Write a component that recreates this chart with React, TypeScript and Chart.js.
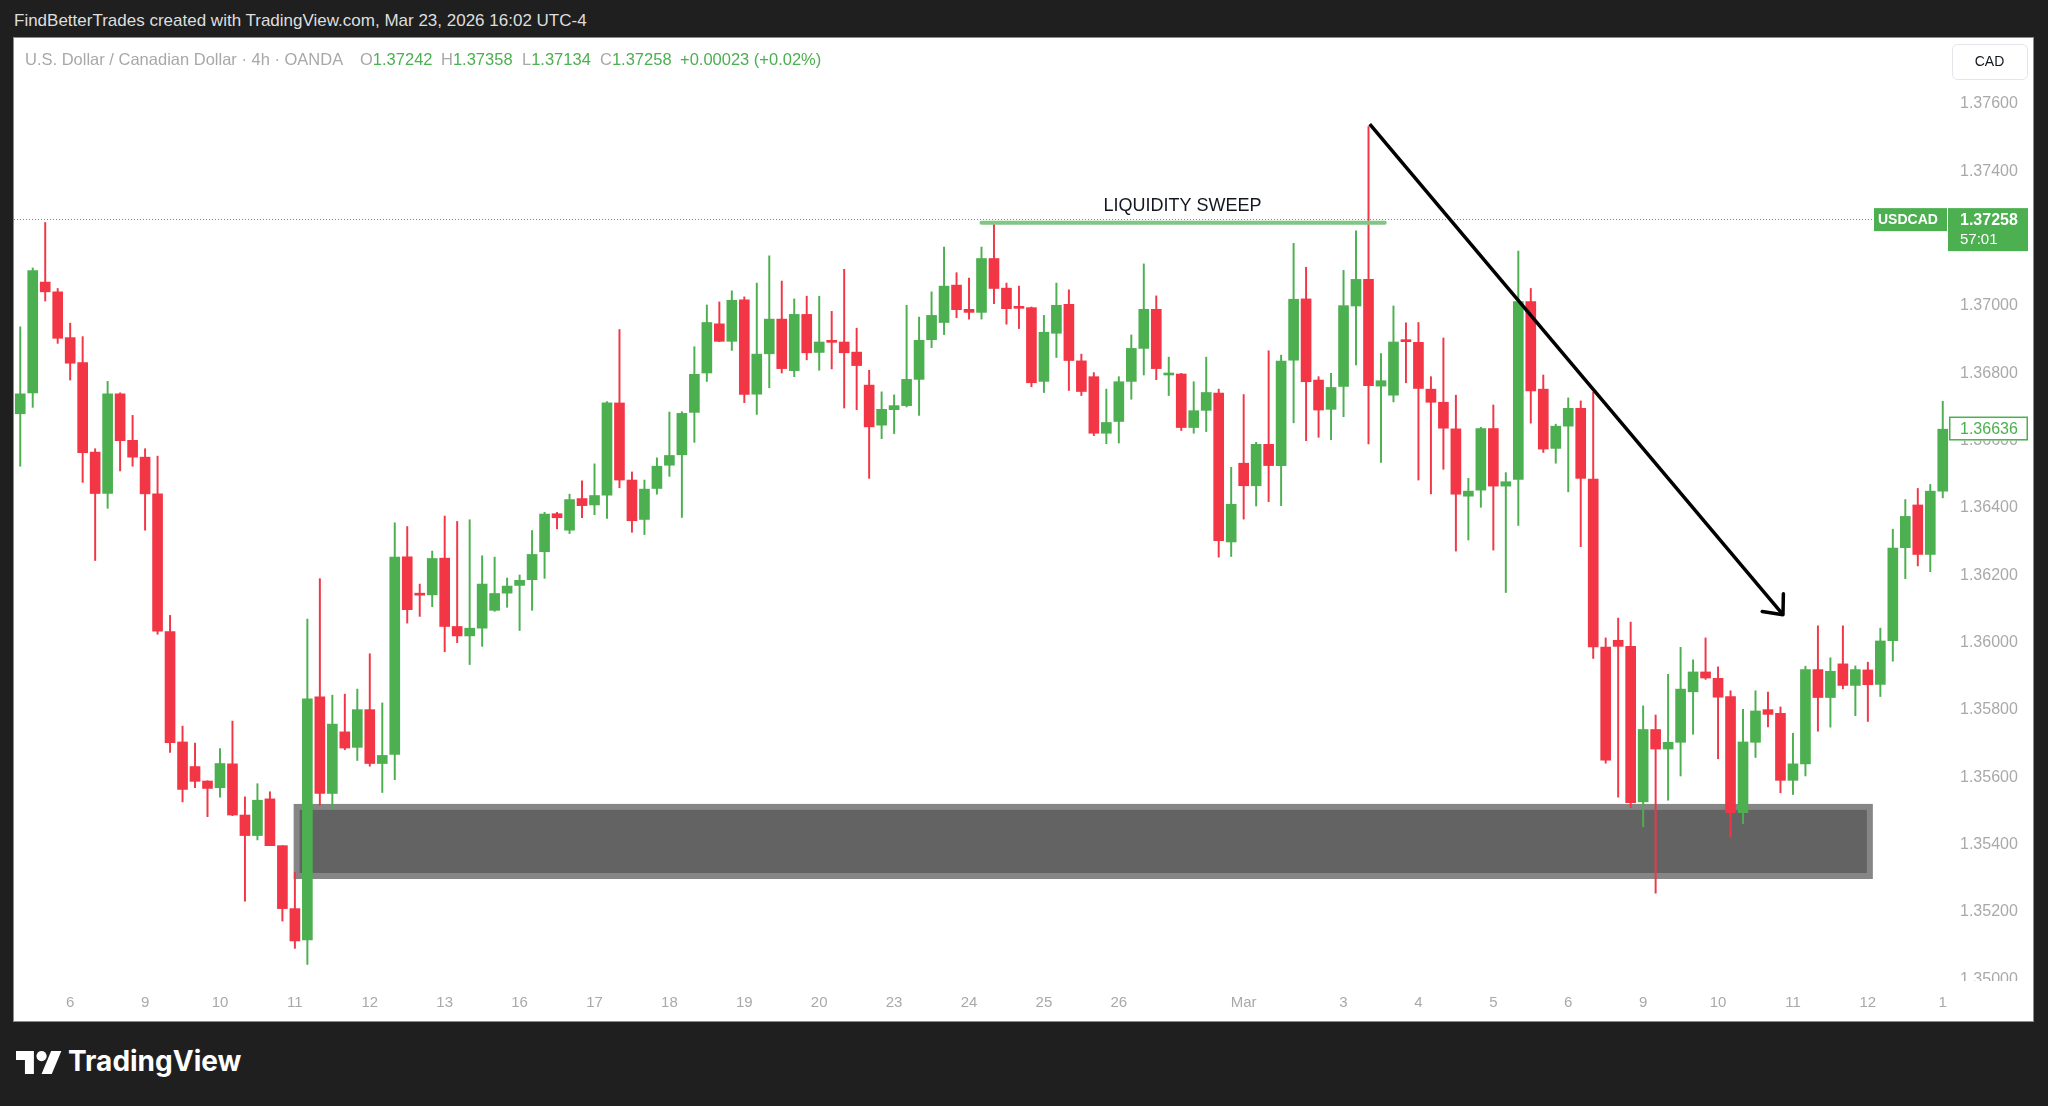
import React, { useEffect, useRef } from 'react';
import { Chart, registerables } from 'chart.js';

Chart.register(...registerables);

// ---- Data (USD/CAD, 4h candles, OANDA) ----
const opens = [
  1.36680, 1.36742, 1.37071, 1.37042, 1.36906, 1.36832, 1.36566, 1.36443, 1.36739, 1.36601,
  1.36551, 1.36442, 1.36033, 1.35705, 1.35632, 1.35589, 1.35569, 1.35640, 1.35488, 1.35427,
  1.35536, 1.35397, 1.35210, 1.35117, 1.35839, 1.35552, 1.35735, 1.35689, 1.35801, 1.35641,
  1.35668, 1.36255, 1.36146, 1.36142, 1.36251, 1.36048, 1.36020, 1.36043, 1.36096, 1.36147,
  1.36170, 1.36187, 1.36270, 1.36383, 1.36334, 1.36428, 1.36409, 1.36438, 1.36712, 1.36483,
  1.36366, 1.36458, 1.36527, 1.36558, 1.36684, 1.36801, 1.36947, 1.36895, 1.37018, 1.36738,
  1.36858, 1.36961, 1.36808, 1.36975, 1.36862, 1.36896, 1.36893, 1.36863, 1.36765, 1.36646,
  1.36692, 1.36704, 1.36782, 1.36900, 1.36951, 1.37062, 1.36990, 1.36981, 1.37141, 1.37053,
  1.36999, 1.36995, 1.36776, 1.36919, 1.37005, 1.36837, 1.36790, 1.36622, 1.36657, 1.36776,
  1.36874, 1.36990, 1.36795, 1.36798, 1.36639, 1.36690, 1.36741, 1.36299, 1.36533, 1.36466,
  1.36589, 1.36526, 1.36839, 1.37021, 1.36780, 1.36693, 1.36761, 1.37000, 1.37079, 1.36762,
  1.36735, 1.36897, 1.36892, 1.36753, 1.36714, 1.36635, 1.36435, 1.36453, 1.36636, 1.36465,
  1.36485, 1.37013, 1.36753, 1.36577, 1.36643, 1.36696, 1.36486, 1.35987, 1.36007, 1.35989,
  1.35527, 1.35742, 1.35684, 1.35704, 1.35854, 1.35913, 1.35894, 1.35840, 1.35495, 1.35704,
  1.35801, 1.35790, 1.35591, 1.35640, 1.35920, 1.35837, 1.35937, 1.35873, 1.35919, 1.35876,
  1.36006, 1.36282, 1.36409, 1.36262, 1.36450,
];
const highs = [
  1.36938, 1.37113, 1.37248, 1.37052, 1.36949, 1.36909, 1.36576, 1.36776, 1.36742, 1.36675,
  1.36576, 1.36554, 1.36081, 1.35752, 1.35702, 1.35590, 1.35685, 1.35767, 1.35542, 1.35581,
  1.35557, 1.35397, 1.35318, 1.36070, 1.36190, 1.35844, 1.35847, 1.35862, 1.35967, 1.35821,
  1.36356, 1.36345, 1.36174, 1.36272, 1.36376, 1.36360, 1.36365, 1.36258, 1.36254, 1.36192,
  1.36201, 1.36333, 1.36387, 1.36387, 1.36441, 1.36481, 1.36531, 1.36716, 1.36930, 1.36507,
  1.36483, 1.36549, 1.36685, 1.36686, 1.36879, 1.37003, 1.37012, 1.37045, 1.37027, 1.37068,
  1.37149, 1.37074, 1.37021, 1.37029, 1.37029, 1.36984, 1.37109, 1.36934, 1.36809, 1.36745,
  1.36736, 1.37002, 1.36967, 1.37042, 1.37175, 1.37099, 1.37083, 1.37175, 1.37249, 1.37068,
  1.37059, 1.36997, 1.36972, 1.37068, 1.37048, 1.36857, 1.36802, 1.36753, 1.36790, 1.36914,
  1.37125, 1.37030, 1.36848, 1.36800, 1.36775, 1.36848, 1.36753, 1.36521, 1.36737, 1.36595,
  1.36867, 1.36854, 1.37186, 1.37115, 1.36790, 1.36800, 1.37106, 1.37223, 1.37533, 1.36859,
  1.37000, 1.36950, 1.36951, 1.36790, 1.36905, 1.36735, 1.36488, 1.36640, 1.36706, 1.36505,
  1.37163, 1.37052, 1.36795, 1.36649, 1.36727, 1.36718, 1.36744, 1.36014, 1.36073, 1.36061,
  1.35812, 1.35785, 1.35906, 1.35986, 1.35949, 1.36014, 1.35928, 1.35857, 1.35802, 1.35857,
  1.35853, 1.35809, 1.35731, 1.35930, 1.36050, 1.35955, 1.36050, 1.35931, 1.35942, 1.36043,
  1.36337, 1.36425, 1.36458, 1.36470, 1.36717,
];
const lows = [
  1.36524, 1.36699, 1.37015, 1.36889, 1.36780, 1.36476, 1.36244, 1.36399, 1.36510, 1.36524,
  1.36334, 1.36025, 1.35674, 1.35527, 1.35569, 1.35483, 1.35541, 1.35486, 1.35232, 1.35414,
  1.35397, 1.35173, 1.35092, 1.35044, 1.35517, 1.35504, 1.35682, 1.35650, 1.35633, 1.35555,
  1.35593, 1.36058, 1.36078, 1.36107, 1.35973, 1.36000, 1.35935, 1.35989, 1.36093, 1.36105,
  1.36036, 1.36096, 1.36191, 1.36338, 1.36324, 1.36371, 1.36380, 1.36369, 1.36460, 1.36328,
  1.36321, 1.36441, 1.36494, 1.36372, 1.36595, 1.36776, 1.36894, 1.36868, 1.36713, 1.36678,
  1.36757, 1.36801, 1.36790, 1.36840, 1.36809, 1.36813, 1.36697, 1.36692, 1.36488, 1.36606,
  1.36621, 1.36700, 1.36675, 1.36876, 1.36915, 1.36965, 1.36961, 1.36961, 1.37007, 1.36946,
  1.36933, 1.36760, 1.36743, 1.36847, 1.36749, 1.36734, 1.36615, 1.36591, 1.36593, 1.36723,
  1.36795, 1.36781, 1.36734, 1.36630, 1.36622, 1.36627, 1.36254, 1.36256, 1.36367, 1.36406,
  1.36419, 1.36407, 1.36653, 1.36600, 1.36610, 1.36603, 1.36671, 1.36825, 1.36590, 1.36535,
  1.36715, 1.36772, 1.36483, 1.36442, 1.36515, 1.36272, 1.36305, 1.36402, 1.36275, 1.36149,
  1.36348, 1.36652, 1.36565, 1.36533, 1.36448, 1.36285, 1.35953, 1.35642, 1.35541, 1.35510,
  1.35453, 1.35256, 1.35532, 1.35604, 1.35728, 1.35891, 1.35655, 1.35423, 1.35462, 1.35659,
  1.35750, 1.35554, 1.35549, 1.35604, 1.35737, 1.35749, 1.35863, 1.35783, 1.35766, 1.35840,
  1.35945, 1.36190, 1.36228, 1.36211, 1.36430,
];
const closes = [
  1.36739, 1.37105, 1.37042, 1.36904, 1.36830, 1.36564, 1.36443, 1.36739, 1.36600, 1.36551,
  1.36442, 1.36034, 1.35703, 1.35564, 1.35588, 1.35567, 1.35641, 1.35488, 1.35427, 1.35532,
  1.35397, 1.35210, 1.35114, 1.35833, 1.35552, 1.35758, 1.35687, 1.35801, 1.35641, 1.35665,
  1.36254, 1.36098, 1.36141, 1.36250, 1.36048, 1.36020, 1.36043, 1.36174, 1.36146, 1.36168,
  1.36185, 1.36262, 1.36382, 1.36371, 1.36425, 1.36407, 1.36437, 1.36712, 1.36483, 1.36362,
  1.36456, 1.36524, 1.36556, 1.36681, 1.36797, 1.36951, 1.36895, 1.37017, 1.36737, 1.36857,
  1.36961, 1.36814, 1.36975, 1.36861, 1.36893, 1.36892, 1.36861, 1.36823, 1.36641, 1.36693,
  1.36704, 1.36782, 1.36898, 1.36972, 1.37059, 1.36989, 1.36981, 1.37141, 1.37052, 1.36992,
  1.36993, 1.36772, 1.36922, 1.37002, 1.36838, 1.36746, 1.36622, 1.36654, 1.36775, 1.36874,
  1.36990, 1.36814, 1.36799, 1.36639, 1.36689, 1.36743, 1.36303, 1.36411, 1.36466, 1.36589,
  1.36526, 1.36836, 1.37020, 1.36775, 1.36691, 1.36758, 1.37001, 1.37079, 1.36763, 1.36778,
  1.36893, 1.36894, 1.36755, 1.36714, 1.36637, 1.36441, 1.36450, 1.36636, 1.36465, 1.36478,
  1.37013, 1.36748, 1.36575, 1.36643, 1.36696, 1.36488, 1.35987, 1.35651, 1.35989, 1.35525,
  1.35742, 1.35684, 1.35704, 1.35862, 1.35913, 1.35895, 1.35838, 1.35495, 1.35705, 1.35797,
  1.35787, 1.35591, 1.35640, 1.35920, 1.35837, 1.35915, 1.35873, 1.35920, 1.35875, 1.36005,
  1.36281, 1.36375, 1.36262, 1.36450, 1.36634,
];

// Date labels: [candle index, text]
const dateTicks: [number, string][] = [
  [4, '6'], [10, '9'], [16, '10'], [22, '11'], [28, '12'], [34, '13'], [40, '16'], [46, '17'],
  [52, '18'], [58, '19'], [64, '20'], [70, '23'], [76, '24'], [82, '25'], [88, '26'], [98, 'Mar'],
  [106, '3'], [112, '4'], [118, '5'], [124, '6'], [130, '9'], [136, '10'], [142, '11'], [148, '12'],
  [154, '1'],
];

const priceMin = 1.34995;
const priceMax = 1.37796;
const priceStep = 0.002;

const currentPrice = 1.37258;
const lastClose = 1.36636;
const countdown = '57:01';

// Drawings (in candle-index / price units)
const zoneStartIdx = 21.9;
const zoneEndIdx = 148.4;
const zoneTop = 1.35521;
const zoneBottom = 1.35298;

const sweepStartIdx = 77.0;
const sweepEndIdx = 109.3;
const sweepPrice = 1.37247;
const sweepLabelIdx = 93.1;
const sweepLabelPrice = 1.37283;
const sweepLabel = 'LIQUIDITY SWEEP';

const arrowFromIdx = 108.1;
const arrowFromPrice = 1.3754;
const arrowToIdx = 141.2;
const arrowToPrice = 1.36083;

const UP = '#4caf50';
const DOWN = '#f23645';
const AXIS_TEXT = '#a9a9a9';
const FONT = '"Liberation Sans", Arial, sans-serif';

const overlayPlugin = {
  id: 'tvOverlay',
  beforeDatasetsDraw(chart: any) {
    const { ctx, scales } = chart;
    const x = scales.x;
    const y = scales.y;
    const l = x.getPixelForValue(zoneStartIdx);
    const r = x.getPixelForValue(zoneEndIdx);
    const t = y.getPixelForValue(zoneTop);
    const b = y.getPixelForValue(zoneBottom);
    ctx.save();
    ctx.fillStyle = '#868686';
    ctx.fillRect(l, t, r - l, b - t);
    ctx.fillStyle = '#636363';
    ctx.fillRect(l + 6, t + 6, r - l - 12, b - t - 12);

    // current price dotted line
    const py = Math.round(y.getPixelForValue(currentPrice)) + 0.5;
    ctx.strokeStyle = UP;
    ctx.lineWidth = 1;
    ctx.setLineDash([1, 2]);
    ctx.beginPath();
    ctx.moveTo(chart.chartArea.left, py);
    ctx.lineTo(chart.chartArea.right - 70, py);
    ctx.stroke();
    ctx.restore();
  },
  afterDatasetsDraw(chart: any) {
    const { ctx, scales } = chart;
    const x = scales.x;
    const y = scales.y;
    ctx.save();
    // liquidity sweep line
    const sy = y.getPixelForValue(sweepPrice);
    ctx.strokeStyle = '#81c784';
    ctx.lineWidth = 4;
    ctx.lineCap = 'round';
    ctx.beginPath();
    ctx.moveTo(x.getPixelForValue(sweepStartIdx), sy);
    ctx.lineTo(x.getPixelForValue(sweepEndIdx), sy);
    ctx.stroke();

    ctx.fillStyle = '#131722';
    ctx.font = `18px ${FONT}`;
    ctx.textAlign = 'center';
    ctx.textBaseline = 'alphabetic';
    ctx.fillText(sweepLabel, x.getPixelForValue(sweepLabelIdx), y.getPixelForValue(sweepLabelPrice));

    // arrow
    const x1 = x.getPixelForValue(arrowFromIdx);
    const y1 = y.getPixelForValue(arrowFromPrice);
    const x2 = x.getPixelForValue(arrowToIdx);
    const y2 = y.getPixelForValue(arrowToPrice);
    ctx.strokeStyle = '#000000';
    ctx.lineWidth = 3.5;
    ctx.lineCap = 'butt';
    ctx.beginPath();
    ctx.moveTo(x1, y1);
    ctx.lineTo(x2, y2);
    ctx.stroke();
    const ang = Math.atan2(y1 - y2, x1 - x2);
    const len = 21;
    const spread = 0.72;
    ctx.lineCap = 'round';
    ctx.lineJoin = 'round';
    ctx.beginPath();
    ctx.moveTo(x2 + len * Math.cos(ang + spread), y2 + len * Math.sin(ang + spread));
    ctx.lineTo(x2, y2);
    ctx.lineTo(x2 + len * Math.cos(ang - spread), y2 + len * Math.sin(ang - spread));
    ctx.stroke();
    ctx.restore();
  },
  afterDraw(chart: any) {
    const { ctx, scales, chartArea } = chart;
    const y = scales.y;
    const axL = chartArea.right;
    ctx.save();
    // hide the lower half of the bottom-most price label (as in the reference)
    ctx.fillStyle = '#ffffff';
    ctx.fillRect(axL, chartArea.bottom, chart.width - axL, chart.height - chartArea.bottom);

    // CAD box
    const cadX = axL + 3;
    const cadY = 6;
    const cadW = 75;
    const cadH = 35;
    ctx.fillStyle = '#ffffff';
    ctx.strokeStyle = '#e3e5ea';
    ctx.lineWidth = 1;
    ctx.beginPath();
    (ctx as any).roundRect(cadX + 0.5, cadY + 0.5, cadW, cadH, 5);
    ctx.fill();
    ctx.stroke();
    ctx.fillStyle = '#131722';
    ctx.font = `14px ${FONT}`;
    ctx.textAlign = 'center';
    ctx.textBaseline = 'middle';
    ctx.fillText('CAD', cadX + cadW / 2, cadY + cadH / 2 + 1);

    // current price labels
    const cy = y.getPixelForValue(currentPrice);
    ctx.fillStyle = UP;
    ctx.fillRect(axL - 75, cy - 11, 73, 23);
    ctx.fillRect(axL - 1, cy - 11, 80, 43);
    ctx.fillStyle = '#ffffff';
    ctx.textAlign = 'left';
    ctx.font = `bold 14px ${FONT}`;
    ctx.fillText('USDCAD', axL - 71, cy + 1);
    ctx.font = `bold 16px ${FONT}`;
    ctx.fillText(currentPrice.toFixed(5), axL + 11, cy + 1);
    ctx.font = `15px ${FONT}`;
    ctx.fillText(countdown, axL + 11, cy + 21);

    // last close label
    const ly = y.getPixelForValue(lastClose);
    ctx.fillStyle = '#ffffff';
    ctx.fillRect(axL, ly - 12, 79, 24);
    ctx.strokeStyle = UP;
    ctx.lineWidth = 1.5;
    ctx.strokeRect(axL + 0.75, ly - 11.25, 77.5, 22.5);
    ctx.fillStyle = UP;
    ctx.font = `16px ${FONT}`;
    ctx.fillText(lastClose.toFixed(5), axL + 11, ly + 1);
    ctx.restore();
  },
};

function CandleChart() {
  const ref = useRef<HTMLCanvasElement | null>(null);
  useEffect(() => {
    if (!ref.current) return;
    const labels = opens.map((_, i) => String(i));
    const tickMap = new Map<number, string>(dateTicks);
    const colors = opens.map((o, i) => (closes[i] >= o ? UP : DOWN));
    const chart = new Chart(ref.current, {
      type: 'bar',
      data: {
        labels,
        datasets: [
          {
            label: 'body',
            data: opens.map((o, i) => [o, closes[i]]) as any,
            backgroundColor: colors,
            borderWidth: 0,
            barThickness: 10,
            minBarLength: 2,
            grouped: false,
          } as any,
          {
            label: 'wick',
            data: lows.map((l, i) => [l, highs[i]]) as any,
            backgroundColor: colors,
            borderWidth: 0,
            barThickness: 1.3,
            grouped: false,
          } as any,
        ],
      },
      options: {
        animation: false,
        responsive: false,
        maintainAspectRatio: false,
        layout: { padding: 0 },
        plugins: {
          legend: { display: false },
          tooltip: { enabled: false },
        },
        scales: {
          x: {
            type: 'category',
            offset: true,
            grid: { display: false, drawTicks: false },
            border: { display: false },
            ticks: {
              autoSkip: false,
              maxRotation: 0,
              minRotation: 0,
              padding: 13,
              color: AXIS_TEXT,
              font: { family: FONT, size: 15 },
              callback: (_v: any, i: number) => tickMap.get(i) ?? '',
            },
            afterFit: (s: any) => {
              s.height = 40;
              s.paddingLeft = 0;
              s.paddingRight = 0;
            },
          },
          y: {
            type: 'linear',
            position: 'right',
            min: priceMin,
            max: priceMax,
            grid: { display: false, drawTicks: false },
            border: { display: false },
            ticks: {
              stepSize: priceStep,
              includeBounds: false,
              padding: 11,
              color: AXIS_TEXT,
              font: { family: FONT, size: 16 },
              callback: (v: any) => Number(v).toFixed(5),
            },
            afterFit: (s: any) => {
              s.width = 84;
              s.paddingTop = 0;
              s.paddingBottom = 0;
            },
          },
        },
      } as any,
      plugins: [overlayPlugin],
    });
    return () => chart.destroy();
  }, []);
  return <canvas ref={ref} width={2019} height={983} style={{ display: 'block' }} />;
}

const legendGray = '#a8a8a8';

export default function App() {
  return (
    <div
      style={{
        position: 'fixed',
        left: 0,
        top: 0,
        width: 2048,
        height: 1106,
        background: '#1f1f1f',
        overflow: 'hidden',
        fontFamily: FONT,
      }}
    >
      <div style={{ position: 'absolute', left: 14, top: 11, color: '#dedede', fontSize: 17, lineHeight: '19px', whiteSpace: 'nowrap' }}>
        FindBetterTrades created with TradingView.com, Mar 23, 2026 16:02 UTC-4
      </div>
      <div
        style={{
          position: 'absolute',
          left: 13,
          top: 37,
          width: 2021,
          height: 985,
          boxSizing: 'border-box',
          border: '1px solid #8c8c8c',
          background: '#ffffff',
        }}
      >
        <CandleChart />
        <div style={{ position: 'absolute', left: 0, top: 12, fontSize: 16.5, lineHeight: '19px', whiteSpace: 'nowrap', color: legendGray }}>
          <span style={{ position: 'absolute', left: 11 }}>U.S. Dollar / Canadian Dollar · 4h · OANDA</span>
          <span style={{ position: 'absolute', left: 346 }}>O<span style={{ color: UP }}>1.37242</span></span>
          <span style={{ position: 'absolute', left: 427 }}>H<span style={{ color: UP }}>1.37358</span></span>
          <span style={{ position: 'absolute', left: 508 }}>L<span style={{ color: UP }}>1.37134</span></span>
          <span style={{ position: 'absolute', left: 586 }}>C<span style={{ color: UP }}>1.37258</span></span>
          <span style={{ position: 'absolute', left: 666, color: UP }}>+0.00023 (+0.02%)</span>
        </div>
      </div>
      <svg style={{ position: 'absolute', left: 16, top: 1051 }} width={46} height={23} viewBox="0 4 36 18">
        <path d="M14 22H7V11H0V4h14v18z" fill="#ffffff" />
        <circle cx="20" cy="8" r="4" fill="#ffffff" />
        <path d="M28 22h-8l7.5-18h8L28 22z" fill="#ffffff" />
      </svg>
      <div style={{ position: 'absolute', left: 68, top: 1045, color: '#ffffff', fontSize: 28, fontWeight: 700, lineHeight: '32px', fontFamily: 'Inter, "Liberation Sans", sans-serif', whiteSpace: 'nowrap' }}>
        TradingView
      </div>
    </div>
  );
}
